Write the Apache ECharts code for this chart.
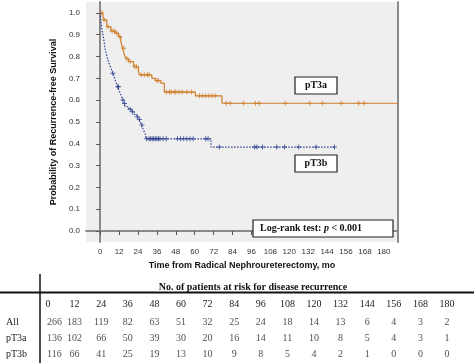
<!DOCTYPE html>
<html><head><meta charset="utf-8">
<script src="https://cdn.jsdelivr.net/npm/echarts@6/dist/echarts.min.js"></script>
<style>html,body{margin:0;padding:0;background:#fff}#c{width:474px;height:363px}</style>
</head><body><div id="c"></div>
<script>
// ---- Kaplan-Meier data (time in months, survival probability) ----
const pT3aTimes = [0,1.7,2.5,4.2,6.8,9.5,11.6,13.1,14.2,15.4,16.5,18,21.2,24.3,25,32.8,35,38.5,40.7,60.4,77.3];
const pT3aSurv  = [1.0,0.983,0.968,0.937,0.917,0.907,0.891,0.868,0.838,0.807,0.79,0.777,0.754,0.731,0.716,0.70,0.69,0.678,0.637,0.62,0.586];
const pT3aEnd = 189;
const pT3aCensor = [1,2.5,5,7.5,9,10.5,12.5,15,17,19,22,23,26,28,30,31,36,37,42,44,45,47,48,50,52,55,58,63,65,67,69,71,73,80,82.6,91,98.5,101,117.5,133,141,153,164,167.5];

const pT3bTimes = [0,0.5,1.1,2,2.5,3.2,4,4.6,5.5,6.4,7.2,8,8.8,9.5,10.2,11,11.8,12.7,13.5,14.4,15.2,15.9,18,20,21.5,23.3,24.5,25.4,26.2,27,27.8,28.6,29,70.3];
const pT3bSurv  = [1.0,0.96,0.922,0.89,0.868,0.83,0.81,0.792,0.772,0.754,0.74,0.723,0.71,0.693,0.678,0.662,0.648,0.632,0.618,0.601,0.585,0.57,0.558,0.547,0.535,0.524,0.512,0.501,0.486,0.471,0.458,0.445,0.423,0.385];
const pT3bEnd = 148.7;
const pT3bCensor = [8,11.2,11.6,14.4,15.5,19,20.5,23.5,25,26.5,29.5,31,32,33,34,35,36,37,38,40,42,49,51,53,55,57,59,67,68.5,75.6,98,99.5,103,112,117,126,137,148.7];

// ---- axis ticks ----
const xTicks = [0,12,24,36,48,60,72,84,96,108,120,132,144,156,168,180];
const yTicks = [0,0.1,0.2,0.3,0.4,0.5,0.6,0.7,0.8,0.9,1.0];

// ---- number at risk table ----
const riskTimes = ['0','12','24','36','48','60','72','84','96','108','120','132','144','156','168','180'];
const riskGroups = ['All','pT3a','pT3b'];
const riskAll  = [266,183,119,82,63,51,32,25,24,18,14,13,6,4,3,2];
const riskT3a  = [136,102,66,50,39,30,20,16,14,11,10,8,5,4,3,1];
const riskT3b  = [116,66,41,25,19,13,10,9,8,5,4,2,1,0,0,0];

const ORANGE = '#cf7e2b', BLUE = '#2d3f90';

function stepData(times, surv, end){
  const d = times.map((t,i)=>[t,surv[i]]);
  d.push([end, surv[surv.length-1]]);
  return d;
}
function survAt(times, surv, t){
  let s = surv[0];
  for(let i=0;i<times.length;i++){ if(times[i]<=t) s=surv[i]; }
  return s;
}
const plus = 'path://M4,0h2v4h4v2h-4v4h-2v-4h-4v-2h4z';

const tableData = [];
[riskAll, riskT3a, riskT3b].forEach((row,r)=>row.forEach((v,c)=>{
  const item = {value:[c,r,v]};
  if(c===0) item.label = {align:'left', offset:[-1,0]};
  tableData.push(item);
}));

const chart = echarts.init(document.getElementById('c'));
chart.setOption({
  animation:false,
  backgroundColor:'#ffffff',
  grid:[
    {left:86,right:76,top:2,bottom:121,show:true,backgroundColor:'#efefef',borderWidth:0},
    {left:34.7,right:13.7,top:313.7,bottom:-0.7}
  ],
  xAxis:[
    {type:'value',gridIndex:0,min:-9,max:189,
     axisLine:{show:true,lineStyle:{color:'#8a8a8a',width:2}},
     axisTick:{show:true,customValues:xTicks,length:4,lineStyle:{color:'#555',width:1}},
     axisLabel:{customValues:xTicks,fontSize:8,color:'#333',margin:6,fontFamily:'Liberation Sans'},
     splitLine:{show:false},
     name:'Time from Radical Nephroureterectomy, mo',nameLocation:'middle',nameGap:17,
     nameTextStyle:{fontSize:9,fontWeight:'bold',color:'#111',fontFamily:'Liberation Sans'}},
    {type:'category',gridIndex:1,data:riskTimes,position:'top',
     axisLine:{show:false},axisTick:{show:false},
     axisLabel:{fontSize:10,color:'#222',fontFamily:'Liberation Serif',margin:4},
     splitLine:{show:false}}
  ],
  yAxis:[
    {type:'value',gridIndex:0,min:-0.05,max:1.05,
     axisLine:{show:true,lineStyle:{color:'#8a8a8a',width:2}},
     axisTick:{show:true,customValues:yTicks,length:4,lineStyle:{color:'#555',width:1}},
     axisLabel:{customValues:yTicks,fontSize:8,color:'#333',margin:6,fontFamily:'Liberation Sans',
       formatter:v=>v.toFixed(1)},
     splitLine:{show:false},
     name:'Probability of Recurrence-free Survival',nameLocation:'middle',nameGap:21,
     nameTextStyle:{fontSize:9,fontWeight:'bold',color:'#111',fontFamily:'Liberation Sans'}},
    {type:'value',gridIndex:0,position:'right',min:-0.05,max:1.05,
     axisLine:{show:true,lineStyle:{color:'#8a8a8a',width:2}},
     axisTick:{show:false},axisLabel:{show:false},splitLine:{show:false}},
    {type:'category',gridIndex:1,data:riskGroups,inverse:true,
     axisLine:{show:false},axisTick:{show:false},
     axisLabel:{fontSize:10,color:'#222',fontFamily:'Liberation Serif',align:'left',margin:28.7},
     splitLine:{show:false}}
  ],
  series:[
    {type:'line',name:'pT3a',xAxisIndex:0,yAxisIndex:0,step:'end',showSymbol:false,
     data:stepData(pT3aTimes,pT3aSurv,pT3aEnd),lineStyle:{color:ORANGE,width:1.2},z:3},
    {type:'scatter',xAxisIndex:0,yAxisIndex:0,symbol:plus,symbolSize:5,
     data:pT3aCensor.map(t=>[t,survAt(pT3aTimes,pT3aSurv,t)]),itemStyle:{color:ORANGE},z:4},
    {type:'line',name:'pT3b',xAxisIndex:0,yAxisIndex:0,step:'end',showSymbol:false,
     data:stepData(pT3bTimes,pT3bSurv,pT3bEnd),lineStyle:{color:BLUE,width:1.2,type:[1.5,1.5]},z:3},
    {type:'scatter',xAxisIndex:0,yAxisIndex:0,symbol:plus,symbolSize:5,
     data:pT3bCensor.map(t=>[t,survAt(pT3bTimes,pT3bSurv,t)]),itemStyle:{color:BLUE},z:4},
    {type:'scatter',xAxisIndex:1,yAxisIndex:2,symbolSize:0,data:tableData,
     label:{show:true,position:'inside',formatter:p=>String(p.value[2]),
       fontSize:10,color:'#222',fontFamily:'Liberation Serif'}}
  ],
  graphic:[
    {type:'rect',shape:{x:295,y:77,width:42,height:17},style:{fill:'#fff',stroke:'#222',lineWidth:1.2},z:10},
    {type:'text',x:316,y:85.5,style:{text:'pT3a',font:'bold 10px "Liberation Serif"',fill:'#111',align:'center',verticalAlign:'middle'},z:11},
    {type:'rect',shape:{x:295,y:155,width:42,height:17},style:{fill:'#fff',stroke:'#222',lineWidth:1.2},z:10},
    {type:'text',x:316,y:163.5,style:{text:'pT3b',font:'bold 10px "Liberation Serif"',fill:'#111',align:'center',verticalAlign:'middle'},z:11},
    {type:'rect',shape:{x:253,y:220,width:140,height:17},style:{fill:'#fff',stroke:'#222',lineWidth:1.2},z:10},
    {type:'text',x:260,y:228.5,z:11,style:{
      text:'{b|Log-rank test: }{i|p}{b| < 0.001}',verticalAlign:'middle',
      rich:{b:{fontFamily:'Liberation Serif',fontWeight:'bold',fontSize:10,fill:'#111'},
            i:{fontFamily:'Liberation Serif',fontWeight:'bold',fontStyle:'italic',fontSize:10,fill:'#111'}}}},
    {type:'text',x:253,y:287,style:{text:'No. of patients at risk for disease recurrence',
      font:'bold 10px "Liberation Serif"',fill:'#111',align:'center',verticalAlign:'middle'}},
    {type:'line',shape:{x1:0,y1:292.5,x2:474,y2:292.5},style:{stroke:'#111',lineWidth:2}},
    {type:'line',shape:{x1:40,y1:274,x2:40,y2:363},style:{stroke:'#111',lineWidth:1.5}}
  ]
});
</script></body></html>
